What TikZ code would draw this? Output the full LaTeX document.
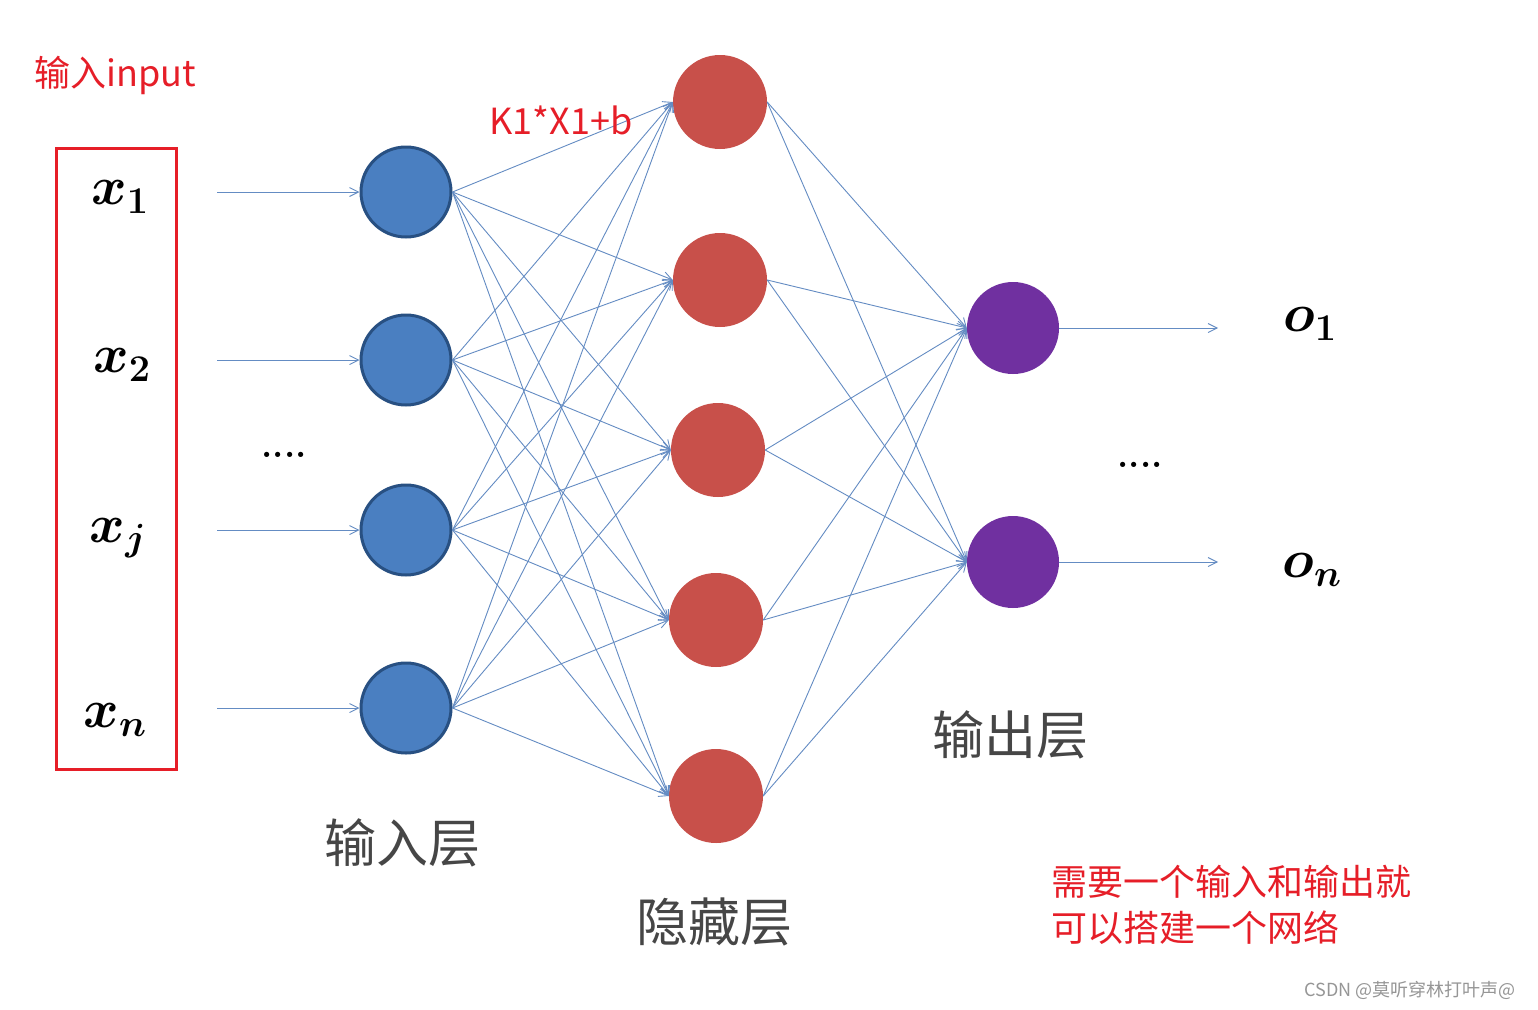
\RequirePackage{fix-cm}
\documentclass[tikz,border=0pt]{standalone}
\usepackage{amsmath,amssymb,bm}
\usepackage{fontspec}
\newfontfamily\cjk{Noto Sans CJK SC}
\usetikzlibrary{arrows.meta}
\definecolor{inblue}{RGB}{74,127,193}
\definecolor{inedge}{RGB}{40,80,130}
\definecolor{hidred}{RGB}{200,80,74}
\definecolor{outpur}{RGB}{112,48,160}
\definecolor{connc}{RGB}{100,140,195}
\definecolor{laygray}{RGB}{70,70,70}
\definecolor{annred}{RGB}{230,30,40}
\definecolor{wmgray}{RGB}{150,150,150}
\begin{document}
\begin{tikzpicture}[x=1pt,y=-1pt,
 inn/.style={circle,minimum size=90pt,inner sep=0pt,fill=inblue,draw=inedge,line width=3pt},
 hid/.style={circle,minimum size=94pt,inner sep=0pt,fill=hidred},
 outn/.style={circle,minimum size=92pt,inner sep=0pt,fill=outpur},
 conn/.style={draw=connc,line width=0.9pt,-{Straight Barb[length=9pt,width=9pt]}},
 lay/.style={font=\cjk\fontsize{52}{58}\selectfont,text=laygray},
 annot/.style={text=annred},
 mathl/.style={font=\fontsize{54}{60}\selectfont}]
\useasboundingbox (0,0) rectangle (1538,1009);
\fill[white] (0,0) rectangle (1538,1009);
\foreach \n/\y in {1/192,2/360,3/530,4/708}{\node[inn] (i\n) at (406,\y) {};
 \coordinate (s\n) at (217,\y); \draw[conn] (s\n) -- (i\n);}
\foreach \n/\x/\y in {1/720/102,2/720/280,3/718/450,4/716/620,5/716/796}{\node[hid] (h\n) at (\x,\y) {};}
\node[outn] (o1) at (1013,328) {};
\node[outn] (o2) at (1013,562) {};
\foreach \a in {1,2,3,4}{\foreach \b in {1,2,3,4,5}{\draw[conn] (i\a.east) -- (h\b.west);}}
\foreach \a in {1,2,3,4,5}{\foreach \b in {1,2}{\draw[conn] (h\a.east) -- (o\b.west);}}
\coordinate (e1) at (1218,328); \coordinate (e2) at (1218,562);
\draw[conn] (o1) -- (e1); \draw[conn] (o2) -- (e2);
\node[mathl] (l1) at (120,197) {$\bm{x_1}$};
\node[mathl] (l2) at (122,365) {$\bm{x_2}$};
\node[mathl] (l3) at (118,538) {$\bm{x_j}$};
\node[mathl] (l4) at (115,720) {$\bm{x_n}$};
\node[mathl] (m1) at (1310,324) {$\bm{o_1}$};
\node[mathl] (m2) at (1312,570) {$\bm{o_n}$};
\node[font=\bfseries\fontsize{36}{36}\selectfont] (d1) at (284,455) {....};
\node[font=\bfseries\fontsize{36}{36}\selectfont] (d2) at (1140,465) {....};
\draw[annred,line width=3pt] (56,148) rectangle (176,769);
\node[annot,font=\cjk\fontsize{36}{38}\selectfont] (t1) at (115,75) {输入input};
\node[annot,font=\cjk\fontsize{36}{38}\selectfont] (t2) at (561,120) {K1*X1+b};
\node[lay] (n1) at (402,843) {输入层};
\node[lay] (n2) at (714,922) {隐藏层};
\node[lay] (n3) at (1010,735) {输出层};
\node[annot,font=\cjk\fontsize{36}{46}\selectfont,align=left,anchor=west] (t3) at (1048,905) {需要一个输入和输出就\\可以搭建一个网络};
\node[font=\cjk\fontsize{18}{20}\selectfont,text=wmgray] (w) at (1410,990) {CSDN @莫听穿林打叶声@};
\end{tikzpicture}
\end{document}
